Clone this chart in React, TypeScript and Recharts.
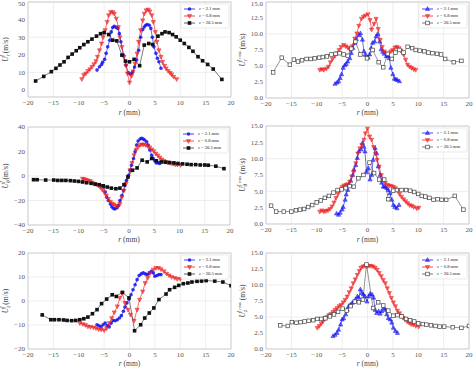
import React from "react";
import { LineChart, Line, XAxis, YAxis, CartesianGrid, ReferenceArea } from "recharts";

type Pt = [number, number];

const rTicks = [-20, -15, -10, -5, 0, 5, 10, 15, 20];
const urTicks = [0, 10, 20, 30, 40, 50];
const utTicks = [-40, -20, 0, 20, 40];
const uzTicks = [-20, -10, 0, 10, 20];
const rmsTicks = [0, 2.5, 5, 7.5, 10, 12.5, 15];
const legendLabels = ["2.1", "6.8", "20.5"];

// U_r mean
const urZ21: Pt[] = [[-6.4,11.3],[-5.9,13.2],[-5.5,14.5],[-5.3,15.7],[-4.9,17.4],[-4.6,20.8],[-4.3,24.5],[-3.9,28.3],[-3.6,33],[-3.3,35.5],[-3,36.2],[-2.6,35.5],[-2.3,35],[-2,32],[-1.7,27.4],[-1.2,19.8],[-0.7,14],[-0.2,9.8],[0.2,9],[0.6,10],[1,13],[1.4,17],[1.8,22.6],[2.2,30],[2.6,34.3],[2.9,35.8],[3.2,36.8],[3.5,37.2],[3.9,36.8],[4.2,35],[4.5,30],[4.8,24.5],[5.2,20.8],[5.5,18],[5.8,16],[6.2,12.3]];
const urZ68: Pt[] = [[-9.4,6.2],[-9,8.5],[-8.6,9.4],[-8.2,10.8],[-7.8,11.9],[-7.4,13.2],[-7,14.7],[-6.6,16.4],[-6.3,18.9],[-5.9,22.6],[-5.5,26.4],[-5.2,30],[-4.8,34],[-4.4,38.7],[-4.1,42.5],[-3.7,44.3],[-3.3,44.3],[-3,43.4],[-2.6,40.6],[-2.2,35.8],[-1.9,30],[-1.5,24.5],[-1.1,18.9],[-0.7,14],[-0.4,9.4],[0,4.3],[0.4,8],[0.7,10.6],[1.1,15],[1.5,20.8],[1.8,27.4],[2.2,34],[2.6,39.6],[2.9,43.4],[3.3,45.3],[3.7,45.7],[4,44.7],[4.4,42.5],[4.7,38.7],[5.1,33],[5.4,27.4],[5.8,22.6],[6.2,18.9],[6.5,16],[6.9,13.8],[7.2,12.3],[7.6,10.9],[8,9.8],[8.3,8.9],[8.7,7.5],[9.3,6.2]];
const urZ205: Pt[] = [[-18.5,5.1],[-16.9,7.7],[-15.4,10.4],[-14.5,12.3],[-13.7,14.2],[-12.9,16],[-12.1,18.5],[-11.3,20.4],[-10.5,22.3],[-9.8,24],[-9,25.8],[-8.2,27.4],[-7.4,28.9],[-6.5,30.6],[-5.7,32],[-5,32.6],[-4.1,31.5],[-3.3,28.3],[-2.5,27.9],[-1.5,19.8],[-0.8,16.4],[0,16],[0.9,17.4],[2,13.8],[2.9,25.5],[3.8,26.4],[4.6,25.8],[5.6,30.6],[6.4,32],[7,33],[7.8,32.6],[8.5,31.5],[9.2,30.2],[10,28.3],[10.8,26.4],[11.7,24.2],[12.5,22],[13.5,18.9],[14.4,16.6],[15.4,14.5],[16.5,11.9],[18.2,6]];

// U_r rms
const urRmsZ21: Pt[] = [[-6.4,2.2],[-6,2.4],[-5.7,2.6],[-5.4,3.1],[-5.1,3.7],[-4.8,4.7],[-4.5,5.1],[-4.2,5.3],[-3.9,5.7],[-3.5,6.2],[-3.2,7],[-2.9,7.8],[-2.5,8.6],[-2.2,9.2],[-1.7,9.8],[-1.4,10.1],[-1,9.1],[-0.7,7.3],[-0.4,6.8],[0.1,6.3],[0.4,6.8],[0.7,7.8],[1,8.6],[1.4,8.8],[1.7,9.6],[2,10],[2.4,8.8],[2.7,7.6],[3,7.2],[3.3,6.9],[3.7,6.5],[4,6.6],[4.3,6.2],[4.6,4.7],[5,3.7],[5.3,3],[5.6,2.9],[5.9,2.8],[6.3,2.6]];
const urRmsZ68: Pt[] = [[-9.4,4.4],[-9,4.5],[-8.6,4.4],[-8.1,4.6],[-7.7,4.9],[-7.3,5.6],[-6.9,6.1],[-6.4,6.6],[-6,7],[-5.6,7.5],[-5.2,8],[-4.7,8.3],[-4.3,8.1],[-3.9,7.9],[-3.5,7.6],[-3,8.1],[-2.5,9.3],[-2.1,10.1],[-1.7,11.3],[-1.2,12.4],[-0.8,12.7],[-0.4,12.9],[0.1,13.1],[0.5,12.2],[0.8,10.7],[1.3,11.6],[1.7,12.4],[2.1,10.8],[2.5,9.1],[2.9,8],[3.3,7.3],[3.7,7],[4.1,6.9],[4.6,7.3],[5,7.5],[5.4,7.9],[5.8,8],[6.2,7.8],[6.6,7.4],[7.1,6.8],[7.5,6],[7.9,5.2],[8.3,4.9],[8.7,4.7],[9.1,4.5],[9.5,4.4]];
const urRmsZ205: Pt[] = [[-18.6,4],[-16.9,6.3],[-15.3,5.2],[-14.5,6],[-13.7,5.7],[-12.9,5.9],[-12,6.1],[-11.2,6.1],[-10.4,6.2],[-9.5,6.3],[-8.8,6.4],[-8,6.5],[-7.1,6.8],[-6.3,6.9],[-5.5,7],[-4.7,6.8],[-3.9,6.6],[-3.2,7.7],[-2.4,8.8],[-1.4,6.8],[-0.1,6.2],[1,7.5],[2.2,5.6],[3.1,4.8],[4,6.9],[4.8,6.1],[5.5,7.1],[6.3,7.5],[7.1,7.1],[7.9,8],[8.8,7.8],[9.5,7.5],[10.3,7.4],[11.2,7.3],[12,7.1],[12.8,7],[13.7,6.9],[14.5,6.8],[15.3,6.1],[17,5.6],[18.5,5.8]];

// U_theta mean
const utZ21: Pt[] = [[-5.6,-7.7],[-5,-9],[-4.7,-13],[-4.4,-17.3],[-4.1,-20],[-3.7,-22.8],[-3.4,-25],[-3.1,-26.4],[-2.8,-26.9],[-2.4,-26],[-2.1,-24.2],[-1.8,-20],[-1.4,-16],[-1.1,-11.8],[-0.8,-7.7],[-0.5,-3.6],[-0.1,0.5],[0.2,4.7],[0.5,8.8],[0.9,14.3],[1.2,19.8],[1.5,25.3],[1.8,28.6],[2.2,30.2],[2.5,30.8],[2.8,30.2],[3.1,29.4],[3.5,28],[3.8,25.3],[4.1,21.2],[4.5,17],[4.8,14.3],[5.1,12.4],[5.4,10.7],[5.8,10.7],[6.1,10.2]];
const utZ68: Pt[] = [[-9.2,-2.2],[-8.9,-2.5],[-8.5,-3],[-8.1,-3.6],[-7.7,-4.1],[-7.3,-5.2],[-6.9,-6.3],[-6.5,-6.9],[-6.1,-7.7],[-5.7,-9],[-5.3,-11],[-4.9,-13.2],[-4.5,-15.9],[-4.1,-18.7],[-3.7,-20.9],[-3.3,-22.3],[-3,-23.4],[-2.6,-24.2],[-2.2,-25],[-1.8,-22.8],[-1.4,-17.3],[-1,-11.8],[-0.6,-6.3],[-0.2,-0.8],[0.2,4.7],[0.6,10.7],[1,17],[1.4,21.2],[1.8,23.9],[2.2,25.3],[2.6,25.8],[2.9,25.8],[3.3,25.3],[3.7,24.5],[4.1,23.4],[4.5,21.7],[4.9,20.3],[5.3,18.4],[5.7,16.8],[6.1,15.1],[6.5,13.5],[6.9,12.4],[7.3,11.5],[7.7,11],[8.1,10.7],[8.5,10.2],[8.9,9.9],[9.2,9.6],[9.6,9.3],[10.2,9]];
const utZ205: Pt[] = [[-18.9,-3],[-18.2,-3],[-16.5,-3.3],[-14.9,-3.3],[-14.1,-3.6],[-13.3,-3.6],[-12.5,-3.6],[-11.6,-3.8],[-10.8,-4.1],[-10,-4.4],[-9.2,-4.9],[-8.4,-5.5],[-7.5,-6],[-6.7,-6.6],[-5.9,-7.1],[-5.1,-8],[-4.3,-9],[-3.5,-9.9],[-2.6,-10.4],[-1.8,-9.9],[-1,-7.1],[-0.2,-0.8],[0.7,4.7],[1.6,6.6],[2.6,12.9],[3.6,11.5],[4.5,14.3],[5.4,12.4],[6.4,11.5],[7.2,11.3],[8,11],[8.9,10.7],[9.7,10.2],[10.6,9.9],[11.5,9.6],[12.3,9.3],[13.2,9.3],[14.1,9],[15,9],[15.7,8.8],[17.2,8],[18.8,6]];

// U_theta rms
const utRmsZ21: Pt[] = [[-6.1,1.6],[-5.7,1.4],[-5.4,1.7],[-5,2.2],[-4.8,2.6],[-4.4,3.7],[-4.2,4.5],[-3.9,5.2],[-3.6,6],[-3.3,6.6],[-2.9,7.5],[-2.7,8.3],[-2.3,9],[-2,10.1],[-1.7,11.1],[-1.3,11.4],[-1,12.4],[-0.7,11.8],[-0.5,11.1],[-0.2,7.9],[0.2,8.5],[0.5,6.8],[0.8,7.5],[1.1,9.8],[1.5,11.6],[1.8,10.8],[2.1,8.8],[2.5,7.5],[2.8,6.3],[3.1,5.7],[3.4,5.7],[3.8,5.5],[4.1,5.2],[4.4,4.7],[4.8,3.7],[5.1,2.9],[5.4,2.6],[5.8,2.4],[6.2,2.9]];
const utRmsZ68: Pt[] = [[-9.4,1.9],[-9,2.1],[-8.6,1.9],[-8.2,2],[-7.8,2.1],[-7.4,2.3],[-7,2.7],[-6.6,3.3],[-6.2,4],[-5.8,4.6],[-5.4,5.2],[-5,5.7],[-4.6,5.9],[-4.2,6],[-3.9,6.1],[-3.5,6.5],[-3.1,7.3],[-2.7,8],[-2.3,9.3],[-1.9,10.8],[-1.5,11.6],[-1.1,12.1],[-0.7,12.9],[-0.4,13.9],[0,14.6],[0.4,13.4],[0.8,12.9],[1.2,11.8],[1.6,10.8],[1.9,9.8],[2.3,8.8],[2.7,7.5],[3.1,6.8],[3.5,6.3],[3.9,6],[4.3,5.9],[4.7,5.8],[5.1,5.7],[5.5,5.5],[5.9,5.2],[6.3,4.6],[6.7,4.2],[7.1,3.8],[7.5,3.5],[7.9,3.2],[8.3,2.9],[8.7,2.8],[9.1,2.6],[9.7,2.4],[10.1,2.5]];
const utRmsZ205: Pt[] = [[-19,2.8],[-18,1.9],[-16.5,1.9],[-15,1.9],[-14.1,2.1],[-13.3,2.2],[-12.5,2.3],[-11.7,2.6],[-10.9,2.9],[-10,3.3],[-9.2,3.6],[-8.4,4],[-7.6,4.3],[-6.7,4.8],[-5.9,5.2],[-5.1,5.3],[-4.3,5.5],[-3.5,5.8],[-2.7,5.7],[-1.8,7],[-0.8,7.5],[0.4,9.4],[1.3,7.8],[2.3,6.8],[3.3,6.8],[4.1,3.8],[5.1,5.1],[5.8,5.2],[6.7,5.2],[7.6,5.2],[8.4,5.1],[9.2,4.9],[10,4.6],[10.7,4.3],[11.4,4.2],[12.2,4],[13,3.7],[13.8,3.8],[14.6,3.7],[15.5,3.7],[17.2,4.3],[18.9,2.2]];

// U_z mean
const uzZ21: Pt[] = [[-6.4,-9.9],[-6,-10.3],[-5.6,-10.8],[-5.2,-9.9],[-4.8,-9.2],[-4.4,-10.3],[-4,-10.8],[-3.6,-9.2],[-3.2,-8.1],[-2.8,-8.2],[-2.4,-7.8],[-2,-7.1],[-1.6,-6.1],[-1.2,-4.3],[-0.9,-2.5],[-0.5,-0.8],[-0.1,0.8],[0.3,2.6],[0.7,4.7],[1.1,6.8],[1.5,8.9],[1.9,10.6],[2.3,11.3],[2.7,11.7],[3.1,11.3],[3.5,11],[3.9,11.7],[4.3,12.4],[4.7,11.7],[5,10.3],[5.4,10.6],[5.8,11],[6.2,11]];
const uzZ68: Pt[] = [[-9.8,-9.2],[-9.2,-9.6],[-8.7,-10],[-8.2,-10.6],[-7.7,-10.8],[-7.1,-11],[-6.6,-11.3],[-6.1,-11.7],[-5.6,-11.9],[-5,-12.2],[-4.5,-11.3],[-4,-9.2],[-3.5,-7.1],[-3,-4.7],[-2.4,-2.2],[-1.9,1.3],[-1.4,3.3],[-0.9,-0.8],[-0.3,-3.6],[0.2,-5.7],[0.9,-8.2],[1.5,-3.6],[2,0.6],[2.6,4],[3.1,7.5],[3.6,9.6],[4.1,11.7],[4.7,13.1],[5.2,13.8],[5.7,13.8],[6.2,13.3],[6.8,12.4],[7.3,11.4],[7.8,10.7],[8.3,10],[8.9,9.6],[9.4,9.2],[10,9.2]];
const uzZ205: Pt[] = [[-17.2,-5.8],[-15.5,-7.8],[-14.8,-7.8],[-13.9,-7.8],[-13,-7.9],[-12.3,-8.1],[-11.4,-8.2],[-10.6,-8.1],[-9.8,-7.8],[-9,-7.4],[-8.2,-6.7],[-7.3,-5.3],[-6.4,-3.6],[-5.5,-1.1],[-4.5,0.8],[-3.4,2.6],[-2.6,1.9],[-1.4,3.6],[-0.1,1.3],[1,-12.4],[2.2,-9.9],[3,-7.1],[3.9,-5],[4.8,-2.9],[5.8,0.6],[7.2,2.9],[7.9,4.7],[8.9,5.7],[9.7,6.5],[10.6,7.2],[11.5,7.5],[12.3,7.9],[13.3,8.2],[14.2,8.3],[15.1,8.5],[16.8,8.3],[18.4,7.9],[20,6.4]];

// U_z rms
const uzRmsZ21: Pt[] = [[-6.8,2],[-6.4,2.2],[-6,2.5],[-5.7,3],[-5.3,3.8],[-5,4.6],[-4.7,4.8],[-4.3,5.4],[-4,6.1],[-3.7,6.7],[-3.4,6.9],[-3,7.2],[-2.7,7.4],[-2.4,7.7],[-2,8.2],[-1.7,8],[-1.4,9.3],[-1.1,8.75],[-0.8,8.5],[-0.5,8.2],[-0.1,7.4],[0.2,8.2],[0.5,8.6],[0.9,8.5],[1.2,8],[1.5,6.1],[1.8,5.6],[2.2,5.9],[2.5,5.5],[2.8,5.9],[3.2,6.4],[3.5,6.1],[3.8,5.4],[4.1,4.8],[4.5,4.6],[4.8,4.1],[5.1,3.3],[5.5,2.8],[5.9,2.5]];
const uzRmsZ68: Pt[] = [[-9.9,3.3],[-9.5,3.6],[-9.1,4],[-8.8,4.3],[-8.4,4.7],[-8,5],[-7.6,5.3],[-7.2,5.5],[-6.8,5.8],[-6.4,6.1],[-6,6.4],[-5.6,6.7],[-5.2,6.9],[-4.8,7.3],[-4.4,7.7],[-4,8.2],[-3.6,8.9],[-3.2,9.5],[-2.8,10.3],[-2.4,10.9],[-2,11.6],[-1.6,12.2],[-1.3,12.7],[-0.9,12.9],[-0.5,13],[-0.1,12.9],[0.3,13],[0.7,13],[1.1,12.9],[1.5,12.7],[1.9,12.4],[2.3,11.9],[2.7,11.4],[3.1,10.8],[3.5,10.3],[3.9,9.5],[4.3,8.75],[4.7,8],[5.1,7.3],[5.5,6.7],[5.9,6],[6.3,5.6],[6.6,5.2],[7,4.9],[7.4,4.6],[7.8,4.3],[8.2,4.1],[8.6,3.9],[9,3.8],[9.5,3.6],[10.1,3.5]];
const uzRmsZ205: Pt[] = [[-17.2,3.7],[-15.7,3.6],[-14.9,4.2],[-14,4.1],[-13.2,4.2],[-12.4,4.3],[-11.6,4.4],[-10.7,4.5],[-9.9,4.7],[-9.1,4.7],[-8.3,4.8],[-7.4,5.1],[-6.6,5.4],[-5.8,5.8],[-4.9,6.3],[-4.1,6],[-3.3,6.7],[-2.5,7.4],[-1.7,7.3],[-0.9,7.7],[-0.2,13.2],[1.1,6.4],[2.1,7.3],[3.1,6.8],[4.1,6],[5.1,5.2],[5.9,5.3],[6.7,5.1],[7.6,4.7],[8.4,4.5],[9.2,4.3],[10,4],[10.9,3.9],[11.6,3.8],[12.5,3.7],[13.4,3.6],[14.2,3.5],[15.1,3.5],[16.8,3.4],[18.5,3.3],[20,3.6]];

const FONT = "'Liberation Serif', 'DejaVu Serif', serif";
const BLUE = "#1414f0";
const RED = "#ee1c1c";
const BLACK = "#111111";

type Shape = "circle" | "square" | "up" | "down";

function marker(shape: Shape, cx: number, cy: number, color: string, open: boolean, key?: any) {
  const fill = open ? "#fff" : color;
  const op = open ? 1 : 0.85;
  if (shape === "circle") return <circle key={key} cx={cx} cy={cy} r={1.8} fill={fill} fillOpacity={op} />;
  if (shape === "square")
    return <rect key={key} x={cx - 1.8} y={cy - 1.8} width={3.6} height={3.6} fill={fill} stroke={open ? "#444" : "none"} strokeWidth={0.7} />;
  const d = shape === "up"
    ? `M${cx},${cy - 2.4}L${cx + 2.1},${cy + 1.4}L${cx - 2.1},${cy + 1.4}Z`
    : `M${cx},${cy + 2.4}L${cx + 2.1},${cy - 1.4}L${cx - 2.1},${cy - 1.4}Z`;
  return <path key={key} d={d} fill={color} fillOpacity={0.6} stroke={color} strokeWidth={0.5} />;
}

const dotFn = (shape: Shape, color: string, open: boolean) => (p: any) => {
  if (p.cx == null || p.cy == null) return <g key={p.index} />;
  return marker(shape, p.cx, p.cy, color, open, p.index);
};

const minus = (v: number) => (v < 0 ? `\u2212${Math.abs(v)}` : `${v}`);

interface SeriesDef { pts: Pt[]; color: string; shape: Shape; open: boolean; lineColor: string }

interface PanelProps {
  left: number; top: number; width: number; height: number;
  pl: number; pr: number; pt: number; pb: number;
  yDomain: [number, number]; yTicks: number[]; rms: boolean;
  sub: string; series: SeriesDef[]; xLabelY: number;
}

function Panel(props: PanelProps) {
  const { left, top, width, height, pl, pr, pt, pb, yDomain, yTicks, rms, sub, series, xLabelY } = props;
  const yFmt = rms ? (v: number) => v.toFixed(1) : minus;
  const midY = (pt + pb) / 2 - top;
  const lx = pr - left - 50;
  const ly = pt - top + 2;
  const tick = { fontSize: 7, fill: "#555", fontFamily: FONT };
  return (
    <div style={{ position: "absolute", left, top, width, height }}>
      <LineChart width={width} height={height} margin={{ top: pt - top, right: left + width - pr, bottom: 0, left: 0 }}>
        <CartesianGrid stroke="#e6e6e6" strokeWidth={0.7} />
        <ReferenceArea x1={-20} x2={20} y1={yDomain[0]} y2={yDomain[1]} fill="none" stroke="#c8c8c8" strokeWidth={0.8} />
        <XAxis type="number" dataKey="r" domain={[-20, 20]} ticks={rTicks} tickFormatter={minus}
          height={top + height - pb} tick={tick} tickLine={false} axisLine={false} tickSize={0} tickMargin={3} allowDataOverflow />
        <YAxis type="number" domain={yDomain} ticks={yTicks} tickFormatter={yFmt}
          width={pl - left} tick={tick} tickLine={false} axisLine={false} tickSize={0} tickMargin={3} allowDataOverflow />
        {series.map((s, i) => (
          <Line key={i} data={s.pts.map(([r, v]) => ({ r, v }))} dataKey="v" type="linear"
            stroke={s.lineColor} strokeWidth={0.8} strokeOpacity={0.8}
            dot={dotFn(s.shape, s.color, s.open)} activeDot={false} isAnimationActive={false} />
        ))}
      </LineChart>
      <svg width={width} height={height} style={{ position: "absolute", left: 0, top: 0, pointerEvents: "none" }}
        fontFamily={FONT}>
        <text transform={`translate(8,${midY}) rotate(-90)`} textAnchor="middle" fontSize={7.5} fill="#444">
          <tspan fontStyle="italic">U</tspan>
          <tspan fontStyle="italic" fontSize={5.5} dy={1.8}>{sub}</tspan>
          <tspan fontStyle="italic" fontSize={5.5} dx={-2.5} dy={-5.5}>f</tspan>
          {rms && <tspan fontSize={5}>{" rms"}</tspan>}
          <tspan dy={3.7}>{" (m/s)"}</tspan>
        </text>
        <text x={(pl + pr) / 2 - left} y={xLabelY - top} textAnchor="middle" fontSize={7.5} fill="#444" dominantBaseline="middle">
          <tspan fontStyle="italic">r</tspan>
          <tspan>{" (mm)"}</tspan>
        </text>
        <rect x={lx} y={ly} width={48} height={24} fill="#fff" fillOpacity={0.9} stroke="#dcdcdc" strokeWidth={0.6} rx={1.5} />
        {series.map((s, i) => {
          const y = ly + 5 + i * 7;
          return (
            <g key={i}>
              <line x1={lx + 3} x2={lx + 14} y1={y} y2={y} stroke={s.lineColor} strokeWidth={0.8} />
              {marker(s.shape, lx + 8.5, y, s.color, s.open)}
              <text x={lx + 18} y={y} fontSize={4.6} fill="#222" dominantBaseline="middle">
                <tspan fontStyle="italic">z</tspan>{` = ${legendLabels[i]} mm`}
              </text>
            </g>
          );
        })}
      </svg>
    </div>
  );
}

const meanSeries = (a: Pt[], b: Pt[], c: Pt[]): SeriesDef[] => [
  { pts: a, color: BLUE, shape: "circle", open: false, lineColor: BLUE },
  { pts: b, color: RED, shape: "down", open: false, lineColor: RED },
  { pts: c, color: BLACK, shape: "square", open: false, lineColor: "#333" },
];
const rmsSeries = (a: Pt[], b: Pt[], c: Pt[]): SeriesDef[] => [
  { pts: a, color: BLUE, shape: "up", open: false, lineColor: BLUE },
  { pts: b, color: RED, shape: "down", open: false, lineColor: RED },
  { pts: c, color: "#444", shape: "square", open: true, lineColor: "#555" },
];

export default function App() {
  return (
    <div style={{ position: "absolute", left: 0, top: 0, width: 474, height: 368, background: "#fff", overflow: "hidden" }}>
      <Panel left={0} top={0} width={237} height={120} pl={28} pr={231} pt={2} pb={97}
        yDomain={[-4, 50]} yTicks={urTicks} rms={false} sub="r" xLabelY={113} series={meanSeries(urZ21, urZ68, urZ205)} />
      <Panel left={237} top={0} width={237} height={120} pl={266} pr={469} pt={2} pb={98}
        yDomain={[0, 15]} yTicks={rmsTicks} rms sub="r" xLabelY={113} series={rmsSeries(urRmsZ21, urRmsZ68, urRmsZ205)} />
      <Panel left={0} top={120} width={237} height={125} pl={28} pr={230} pt={127} pb={225}
        yDomain={[-40, 40]} yTicks={utTicks} rms={false} sub="θ" xLabelY={240} series={meanSeries(utZ21, utZ68, utZ205)} />
      <Panel left={237} top={120} width={237} height={125} pl={266} pr={469} pt={126} pb={224}
        yDomain={[0, 15]} yTicks={rmsTicks} rms sub="θ" xLabelY={240} series={rmsSeries(utRmsZ21, utRmsZ68, utRmsZ205)} />
      <Panel left={0} top={245} width={237} height={123} pl={28} pr={231} pt={253} pb={349}
        yDomain={[-20, 20]} yTicks={uzTicks} rms={false} sub="z" xLabelY={363.5} series={meanSeries(uzZ21, uzZ68, uzZ205)} />
      <Panel left={237} top={245} width={237} height={123} pl={266} pr={469} pt={253} pb={349}
        yDomain={[0, 15]} yTicks={rmsTicks} rms sub="z" xLabelY={363.5} series={rmsSeries(uzRmsZ21, uzRmsZ68, uzRmsZ205)} />
    </div>
  );
}
